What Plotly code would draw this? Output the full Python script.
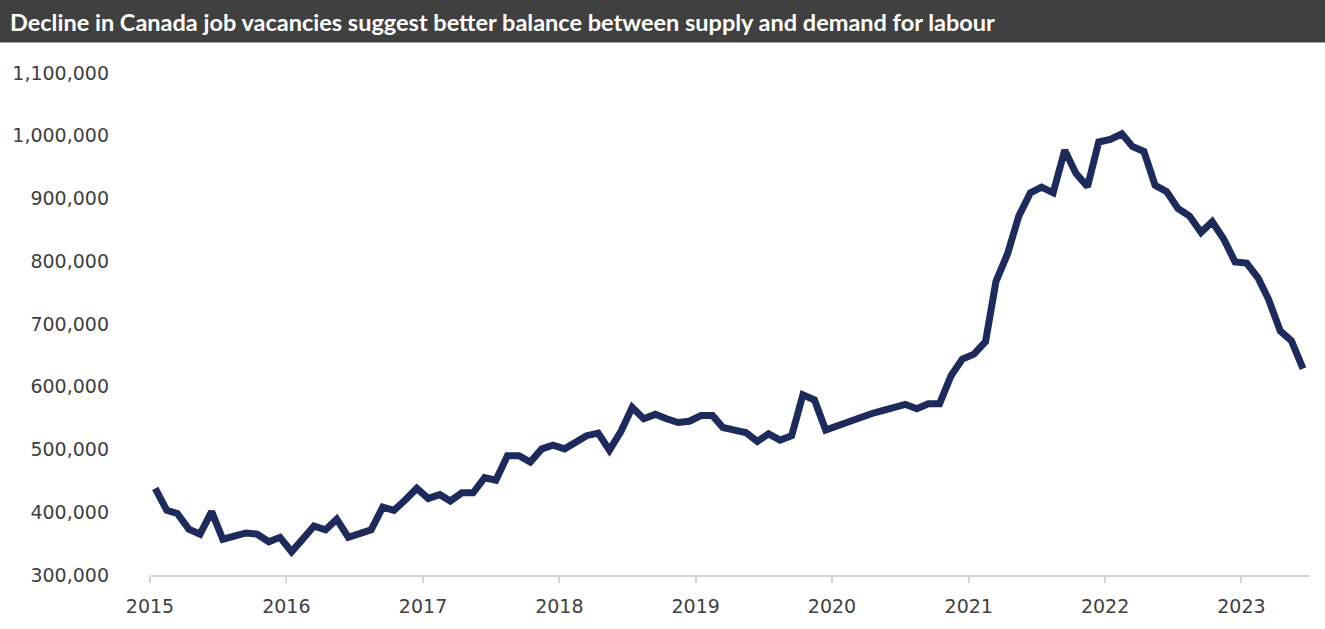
import pandas as pd
import plotly.graph_objects as go

title_text = "Decline in Canada job vacancies suggest better balance between supply and demand for labour"

# Monthly job vacancies, Jan 2015 - Jun 2023
months = (pd.date_range("2015-01-01", periods=102, freq="MS") + pd.Timedelta(days=14)).strftime("%Y-%m-%d").tolist()

vac_2015 = [438000, 403000, 398000, 373000, 365000, 401000, 357000, 362000, 367000, 365000, 353000, 360000]
vac_2016 = [337000, 358000, 378000, 372000, 389000, 360000, 367000, 372000, 408000, 403000, 420000, 438000]
vac_2017 = [422000, 428000, 418000, 431000, 431000, 455000, 451000, 490000, 490000, 480000, 501000, 507000]
vac_2018 = [501000, 513000, 522000, 526000, 499000, 529000, 567000, 549000, 556000, 549000, 543000, 545000]
vac_2019 = [554000, 554000, 535000, 531000, 527000, 513000, 525000, 515000, 522000, 587000, 579000, 531000]
vac_2020 = [538000, 545000, 552000, 557000, 562000, 567000, 572000, 565000, 573000, 573000, 618000, 644000]
vac_2021 = [652000, 672000, 768000, 812000, 872000, 909000, 918000, 909000, 977000, 940000, 919000, 990000]
vac_2022 = [994000, 1003000, 983000, 975000, 921000, 911000, 884000, 872000, 846000, 863000, 835000, 799000]
vac_2023 = [797000, 773000, 739000, 689000, 673000, 629000]

vacancies = vac_2015 + vac_2016 + vac_2017 + vac_2018 + vac_2019 + vac_2020 + vac_2021 + vac_2022 + vac_2023

year_ticks = ["2015-01-01", "2016-01-01", "2017-01-01", "2018-01-01", "2019-01-01",
              "2020-01-01", "2021-01-01", "2022-01-01", "2023-01-01"]
year_labels = ["2015", "2016", "2017", "2018", "2019", "2020", "2021", "2022", "2023"]
y_ticks = [300000, 400000, 500000, 600000, 700000, 800000, 900000, 1000000, 1100000]

fig = go.Figure()
fig.add_trace(go.Scatter(
    x=months, y=vacancies, mode="lines",
    line=dict(color="#1c2a5c", width=7),
    hoverinfo="skip", showlegend=False,
))

L, R, T, B = 149, 16, 73, 46
W, H = 1325, 629
pw = W - L - R
ph = H - T - B

fig.update_layout(
    width=W, height=H,
    margin=dict(l=L, r=R, t=T, b=B),
    paper_bgcolor="white", plot_bgcolor="white",
    font=dict(family="DejaVu Sans", size=19, color="#404040"),
    xaxis=dict(
        type="date",
        range=["2015-01-01", "2023-07-01"],
        tickvals=year_ticks, ticktext=year_labels,
        showgrid=False, zeroline=False,
        showline=True, linecolor="#d4d4d4", linewidth=2,
        ticks="outside", ticklen=6, tickwidth=2, tickcolor="#d4d4d4",
        ticklabelstandoff=7,
        tickfont=dict(family="DejaVu Sans", size=19, color="#404040"),
    ),
    yaxis=dict(
        range=[300000, 1100000],
        tickvals=y_ticks,
        tickformat=",d",
        showgrid=False, zeroline=False, showline=False,
        ticks="", ticklabelstandoff=40,
        tickfont=dict(family="DejaVu Sans", size=19, color="#404040"),
    ),
    shapes=[dict(
        type="rect", xref="paper", yref="paper",
        x0=-0.2, x1=1.1,
        y0=1 + (T - 42) / ph, y1=1 + (T + 5) / ph,
        fillcolor="#404040", line=dict(width=0), layer="above",
    )],
    annotations=[dict(
        text="<b>" + title_text + "</b>",
        xref="paper", yref="paper",
        x=(7 - L) / pw, y=1 + (T - 21) / ph,
        xanchor="left", yanchor="middle",
        showarrow=False,
        font=dict(family="Lato", size=23.5, color="white"),
    )],
)

fig.write_html("out.html")
